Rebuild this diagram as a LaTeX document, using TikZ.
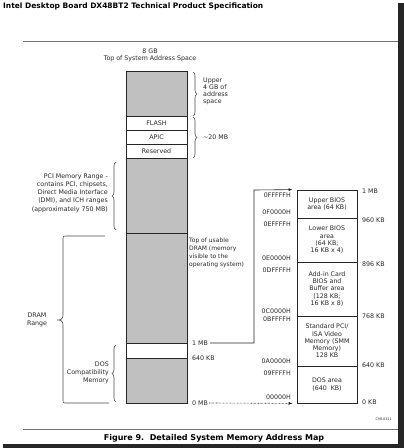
\documentclass[tikz,border=0pt]{standalone}
\usepackage{fontspec}
\setmainfont{DejaVu Sans}
\usetikzlibrary{decorations.pathreplacing,arrows.meta}
\definecolor{memgray}{RGB}{192,192,192}
\definecolor{txt}{RGB}{40,40,40}
\newcommand\memfs{\fontsize{6.3}{7.3}\selectfont}
\tikzset{
  lbl/.style={font=\memfs, text=txt, inner sep=0pt},
  cell/.style={draw=black!85, line width=0.8pt, minimum width=61pt, inner sep=0pt, font=\memfs, text=txt, align=center},
  tcell/.style={cell, minimum width=60pt},
  brc/.style={draw=black!70, line width=0.6pt, decorate, decoration={brace, amplitude=4pt}},
  conn/.style={draw=black!85, line width=0.6pt},
  tip/.style={-{Latex[length=4pt,width=3pt]}}
}
\begin{document}
\begin{tikzpicture}[x=1pt,y=-1pt]
\useasboundingbox (0,0) rectangle (404,448);
\fill[white] (0,0) rectangle (404,448);
\fill[black!85] (398,3) rectangle (404,448);
\fill[black!85] (3,444) rectangle (404,448);

\node[anchor=west, font=\bfseries\fontsize{7.5}{9}\selectfont, inner sep=0pt] (hdr) at (3,6) {Intel Desktop Board DX48BT2 Technical Product Specification};
\draw[black!55, line width=1pt] (23,41) -- (398,41);

\node[lbl, align=center, font=\fontsize{6.3}{7}\selectfont] (title) at (150,55.5) {8 GB\\Top of System Address Space};

% left memory column
\node[cell, fill=memgray, minimum height=45pt] (up4) at (156.5,93.5) {};
\node[cell, fill=white, minimum height=14pt] (flash) at (156.5,123) {FLASH};
\node[cell, fill=white, minimum height=14pt] (apic) at (156.5,137) {APIC};
\node[cell, fill=white, minimum height=14pt] (resv) at (156.5,151) {Reserved};
\node[cell, fill=memgray, minimum height=75pt] (pci) at (156.5,195.5) {};
\node[cell, fill=memgray, minimum height=110pt] (dram) at (156.5,288) {};
\node[cell, fill=white, minimum height=15pt] (hole) at (156.5,350.5) {};
\node[cell, fill=memgray, minimum height=45pt] (dos) at (156.5,380.5) {};

% braces right of column
\draw[brc] (193,72) -- (193,116);
\draw[brc] (193,117) -- (193,158);
\node[lbl, anchor=west, align=left, font=\fontsize{6.3}{7}\selectfont] (upperlbl) at (203,91.5) {Upper\\4 GB of\\address\\space};
\node[lbl, anchor=west] (twentymb) at (203,137) {\textasciitilde 20 MB};

% PCI brace
\draw[brc] (116,230) -- (116,162);
\node[lbl, anchor=east, align=right, font=\fontsize{6.3}{8.2}\selectfont] (pcilbl) at (108,193) {PCI Memory Range -\\contains PCI, chipsets,\\Direct Media Interface\\(DMI), and ICH ranges\\(approximately 750 MB)};

\node[lbl, anchor=west, align=left, font=\fontsize{6}{8}\selectfont] (toplbl) at (189,253) {Top of usable\\DRAM (memory\\visible to the\\operating system)};

% DRAM range brace
\draw[draw=black!70, line width=0.6pt] (105,236) -- (67,236) .. controls (63,236) .. (63,240) -- (63,315) .. controls (63,319) and (61,320) .. (57,320) .. controls (61,320) and (63,321) .. (63,325) -- (63,399) .. controls (63,403) .. (67,403) -- (109,403);
\node[lbl, align=center, font=\fontsize{6.3}{8}\selectfont] (dramlbl) at (37,320) {DRAM\\Range};

% DOS brace
\draw[brc] (116,402) -- (116,345);
\node[lbl, anchor=east, align=right, font=\fontsize{6.3}{8}\selectfont] (doslbl) at (109,373) {DOS\\Compatibility\\Memory};

\node[lbl, anchor=west] (onemb) at (192,343) {1 MB};
\node[lbl, anchor=west] (kb640) at (192,358) {640 KB};
\node[lbl, anchor=west] (zeromb) at (192,403) {0 MB};

% right table
\node[tcell, minimum height=28pt] (ubios) at (327,204) {Upper BIOS\\area (64 KB)};
\node[tcell, minimum height=44pt] (lbios) at (327,240) {Lower BIOS\\area\\(64 KB;\\16 KB x 4)};
\node[tcell, minimum height=54pt] (addin) at (327,289) {Add-in Card\\BIOS and\\Buffer area\\(128 KB;\\16 KB x 8)};
\node[tcell, minimum height=50pt] (stdpci) at (327,341) {Standard PCI/\\ISA Video\\Memory (SMM\\Memory)\\128 KB};
\node[tcell, minimum height=37pt] (dosa) at (327,384.5) {DOS area\\(640\ \ KB)};

% connectors
\coordinate (vtop) at (254,190);
\coordinate (arrend) at ([xshift=-4pt]ubios.north west);
\draw[conn, tip] ([xshift=2pt]onemb.east) -| (vtop) -- (arrend);
\coordinate (arrend2) at ([xshift=-4pt]dosa.south west);
\draw[conn, tip, dash pattern=on 0.6pt off 0.8pt] ([xshift=1pt]zeromb.east) -- (arrend2);

% hex labels
\node[lbl, anchor=east] (h1) at (291,195) {0FFFFFH};
\node[lbl, anchor=east] (h2) at (291,212) {0F0000H};
\node[lbl, anchor=east] (h3) at (291,224) {0EFFFFH};
\node[lbl, anchor=east] (h4) at (291,258) {0E0000H};
\node[lbl, anchor=east] (h5) at (291,270) {0DFFFFH};
\node[lbl, anchor=east] (h6) at (291,311) {0C0000H};
\node[lbl, anchor=east] (h7) at (291,319) {0BFFFFH};
\node[lbl, anchor=east] (h8) at (291,361) {0A0000H};
\node[lbl, anchor=east] (h9) at (291,373) {09FFFFH};
\node[lbl, anchor=east] (h10) at (291,397) {00000H};

% size labels
\node[lbl, anchor=west] (s1) at (362,191) {1 MB};
\node[lbl, anchor=west] (s2) at (362,220) {960 KB};
\node[lbl, anchor=west] (s3) at (362,264) {896 KB};
\node[lbl, anchor=west] (s4) at (362,316) {768 KB};
\node[lbl, anchor=west] (s5) at (362,365) {640 KB};
\node[lbl, anchor=west] (s6) at (362,402) {0 KB};

\node[lbl, anchor=east, font=\fontsize{3.4}{4}\selectfont] (cm) at (392,419) {CM10311};
\draw[black!55, line width=1pt] (23,429) -- (398,429);
\node[font=\bfseries\fontsize{8}{9}\selectfont, inner sep=0pt] (cap) at (214,438) {Figure 9.\ \ Detailed System Memory Address Map};
\end{tikzpicture}
\end{document}
